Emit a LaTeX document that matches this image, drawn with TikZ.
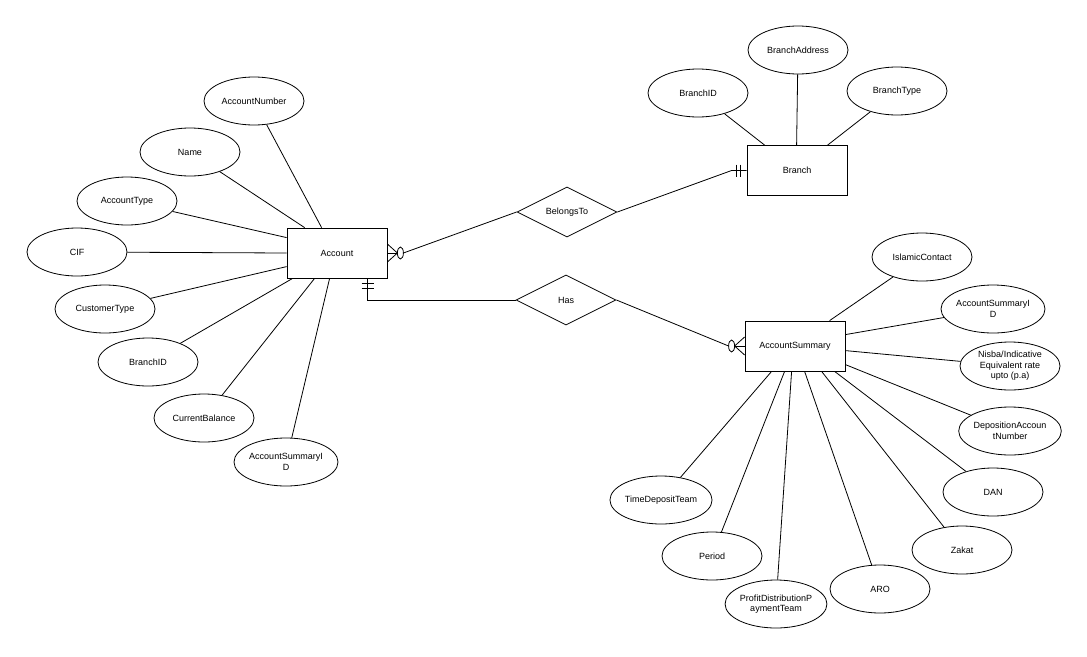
\documentclass[tikz,border=0pt]{standalone}
\usepackage{fontspec}
\setmainfont{Liberation Sans}
\usetikzlibrary{shapes.geometric,calc}
\begin{document}
\begin{tikzpicture}[x=1pt,y=-1pt,line width=0.8pt,
 font=\fontsize{9}{10.5}\selectfont,
 ent/.style={draw,rectangle,minimum width=100pt,minimum height=50pt,fill=white},
 attr/.style={draw,ellipse,minimum width=100pt,minimum height=48pt,align=center,inner sep=0pt},
 rel/.style={draw,diamond,aspect=2,minimum width=100pt,minimum height=50pt,inner sep=0pt}]
\useasboundingbox (0,0) rectangle (1087,656);
\node[ent] (acc) at (337,253) {Account};
\node[ent] (br) at (797,170.5) {Branch};
\node[ent] (as) at (795,346) {AccountSummary};
\node[rel] (bt) at (567,212) {BelongsTo};
\node[rel] (has) at (566,300) {Has};
% Account attributes
\node[attr] (a1) at (254,101) {AccountNumber};
\node[attr] (a2) at (190,152) {Name};
\node[attr] (a3) at (127,201) {AccountType};
\node[attr] (a4) at (77,252) {CIF};
\node[attr] (a5) at (105,309) {CustomerType};
\node[attr] (a6) at (148,362) {BranchID};
\node[attr] (a7) at (204,418) {CurrentBalance};
\node[attr] (a8) at (286,462) {AccountSummaryI\\D};
\draw (a1) -- ($(acc.north west)+(35,0)$);
\draw (a2) -- ($(acc.north west)+(18,0)$);
\draw (a3) -- ($(acc.north west)+(0,10)$);
\draw (a4) -- (acc.west);
\draw (a5) -- ($(acc.north west)+(0,39)$);
\draw (a6) -- ($(acc.south west)+(6,0)$);
\draw (a7) -- ($(acc.south west)+(28,0)$);
\draw (a8) -- ($(acc.south west)+(43,0)$);
% Branch attributes
\node[attr] (b1) at (698,93) {BranchID};
\node[attr] (b2) at (798,50) {BranchAddress};
\node[attr] (b3) at (897,91) {BranchType};
\draw (b1) -- ($(br.north west)+(18,0)$);
\draw (b2) -- ($(br.north west)+(50,0)$);
\draw (b3) -- ($(br.north west)+(81,0)$);
% AccountSummary attributes
\node[attr] (s1) at (922,257) {IslamicContact};
\node[attr] (s2) at (993,309) {AccountSummaryI\\D};
\node[attr] (s3) at (1010,366) {Nisba/Indicative\\Equivalent rate\\upto (p.a)};
\node[attr] (s4) at (1010,431) {DepositionAccoun\\tNumber};
\node[attr] (s5) at (993,492) {DAN};
\node[attr] (s6) at (962,550) {Zakat};
\node[attr] (s7) at (880,589) {ARO};
\node[attr] (s8) at (776,604) {ProfitDistributionP\\aymentTeam};
\node[attr] (s9) at (712,556) {Period};
\node[attr] (s10) at (661,500) {TimeDepositTeam};
\draw (s1) -- ($(as.north west)+(85,0)$);
\draw (s2) -- ($(as.north east)+(0,14)$);
\draw (s3) -- ($(as.north east)+(0,30)$);
\draw (s4) -- ($(as.north east)+(0,44)$);
\draw (s5) -- ($(as.south west)+(90,0)$);
\draw (s6) -- ($(as.south west)+(77,0)$);
\draw (s7) -- ($(as.south west)+(60,0)$);
\draw (s8) -- ($(as.south west)+(47,0)$);
\draw (s9) -- ($(as.south west)+(40,0)$);
\draw (s10) -- ($(as.south west)+(27,0)$);
% Relationships
\coordinate (accE) at (acc.east);
\draw ($(accE)+(0,-9)$) -- ($(accE)+(10,0)$) -- ($(accE)+(0,9)$);
\draw ($(accE)+(0,0)$) -- ($(accE)+(10,0)$);
\draw ($(accE)+(13,0)$) ellipse (3 and 6);
\draw ($(accE)+(16,0)$) -- (bt.west);
\coordinate (brW) at (br.west);
\draw (bt.east) -- ($(brW)+(-15,0)$) -- (brW);
\draw ($(brW)+(-10,-6)$) -- ($(brW)+(-10,6)$);
\draw ($(brW)+(-6,-6)$) -- ($(brW)+(-6,6)$);
\coordinate (accS) at ($(acc.south west)+(81,0)$);
\draw (accS) |- (has.west);
\draw ($(accS)+(-6,5)$) -- ($(accS)+(6,5)$);
\draw ($(accS)+(-6,10)$) -- ($(accS)+(6,10)$);
\coordinate (asW) at (as.west);
\draw ($(asW)+(0,-9)$) -- ($(asW)+(-10,0)$) -- ($(asW)+(0,9)$);
\draw (asW) -- ($(asW)+(-10,0)$);
\draw ($(asW)+(-13,0)$) ellipse (3 and 6);
\draw (has.east) -- ($(asW)+(-16,0)$);
\end{tikzpicture}
\end{document}
